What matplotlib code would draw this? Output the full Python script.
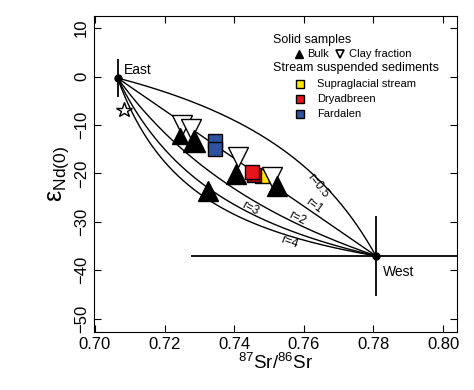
import numpy as np
import matplotlib.pyplot as plt

plt.rcParams['font.family'] = ['Liberation Sans', 'DejaVu Sans']

# end members (87Sr/86Sr, eNd)
east = (0.7065, -0.3)
west = (0.7807, -37.0)
east_err = 4.0
west_xerr = 0.053
west_yerr = 8.2

# mixing curves: labels and curvature used to draw them
r_labels = ['r=0.5', 'r=1', 'r=2', 'r=3', 'r=4']
r_curv = [0.38, 1, 2, 3, 4]

bulk_x = [0.7244, 0.7284, 0.7405, 0.7524, 0.7325]
bulk_y = [-12.2, -13.4, -20.2, -22.5, -23.6]
bulk_ms = [12, 16, 14, 14, 14.5]

clay_x = [0.7250, 0.7276, 0.7411, 0.7510]
clay_y = [-10.0, -10.8, -16.6, -20.7]
clay_ms = [14, 14, 14.5, 14]

supra_x = [0.7480]
supra_y = [-20.6]
dryad_x = [0.7458, 0.7450]
dryad_y = [-20.3, -19.7]
dryad_c = ['#a01010', '#e8141c']
fard_x = [0.7345, 0.7345]
fard_y = [-13.3, -15.0]

star = (0.7085, -6.8)

fig = plt.figure(figsize=(4.74, 3.9), dpi=100)
ax = fig.add_axes([0.198, 0.149, 0.766, 0.81])

f = np.linspace(0, 1, 400)
for r in r_curv:
    w = r * f / (r * f + (1 - f))
    x = w * east[0] + (1 - w) * west[0]
    y = f * east[1] + (1 - f) * west[1]
    ax.plot(x, y, color='black', lw=1.0, zorder=2)

ax.errorbar([east[0]], [east[1]], yerr=east_err, fmt='o', color='black',
            ms=5, elinewidth=1.3, capsize=0, zorder=3)
ax.errorbar([west[0]], [west[1]], xerr=west_xerr, yerr=west_yerr, fmt='o',
            color='black', ms=5, elinewidth=1.3, capsize=0, zorder=3)

ax.text(0.7083, 1.4, 'East', fontsize=10, va='center', ha='left')
ax.text(0.7828, -40.3, 'West', fontsize=10, va='center', ha='left')

label_pos = [(0.7640, -22.6, -52), (0.7630, -26.6, -36), (0.7580, -29.2, -27),
             (0.7445, -27.3, -28), (0.7560, -34.2, -20)]
for t, (lx, ly, rot) in zip(r_labels, label_pos):
    ax.text(lx, ly, t, fontsize=8.5, rotation=rot, ha='center', va='center')

ax.plot(*star, marker='*', ms=11.5, mfc='white', mec='black', mew=1.0, zorder=4)

ax.plot(supra_x, supra_y, 's', ms=10, mfc='#ffe600', mec='black', mew=1.0, ls='none', zorder=3)
for x, y, ms in zip(clay_x, clay_y, clay_ms):
    ax.plot(x, y, marker='v', ms=ms, mfc='white', mec='black', mew=1.0, zorder=4)
for x, y, ms in zip(bulk_x, bulk_y, bulk_ms):
    ax.plot(x, y, marker='^', ms=ms, mfc='black', mec='black', zorder=5)

ax.plot(fard_x, fard_y, 's', ms=10, mfc='#2f52a0', mec='black', mew=1.0, ls='none', zorder=6)
for x, y, c in zip(dryad_x, dryad_y, dryad_c):
    ax.plot(x, y, 's', ms=10, mfc=c, mec='black', mew=1.0, zorder=6)

# legend
ax.text(0.7511, 7.6, 'Solid samples', fontsize=9, va='center')
ax.plot(0.7586, 4.7, '^', ms=6, color='black')
ax.text(0.7609, 4.7, 'Bulk', fontsize=8, va='center')
ax.plot(0.7703, 4.7, 'v', ms=6, mfc='white', mec='black', mew=1.2)
ax.text(0.7730, 4.7, 'Clay fraction', fontsize=8, va='center')
ax.text(0.7511, 1.7, 'Stream suspended sediments', fontsize=9, va='center')
leg_names = ['Supraglacial stream', 'Dryadbreen', 'Fardalen']
leg_colors = ['#ffe600', '#e8141c', '#2f52a0']
leg_y = [-1.5, -4.6, -7.7]
for name, c, y in zip(leg_names, leg_colors, leg_y):
    ax.plot(0.7588, y, 's', ms=5.5, mfc=c, mec='black', mew=1.0)
    ax.text(0.7638, y, name, fontsize=8, va='center')

ax.set_xlim(0.6997, 0.8040)
ax.set_ylim(-52.7, 12.5)
ax.set_xticks([0.70, 0.72, 0.74, 0.76, 0.78, 0.80])
ax.set_xticklabels(['0.70', '0.72', '0.74', '0.76', '0.78', '0.80'])
ax.set_yticks([10, 0, -10, -20, -30, -40, -50])
ax.set_yticklabels(['10', '0', '\u221210', '\u221220', '\u221230', '\u221240', '\u221250'],
                   rotation=90, va='center')
ax.tick_params(direction='in', length=5, top=True, right=True, labelsize=12,
               labeltop=False, labelright=False)
ax.set_xlabel(r'$\mathregular{^{87}Sr/^{86}Sr}$', fontsize=13.5, labelpad=1)
ax.set_ylabel('$\\mathregular{ε_{Nd(0)}}$', fontsize=18, labelpad=2)

fig.savefig('out.png', dpi=100)
